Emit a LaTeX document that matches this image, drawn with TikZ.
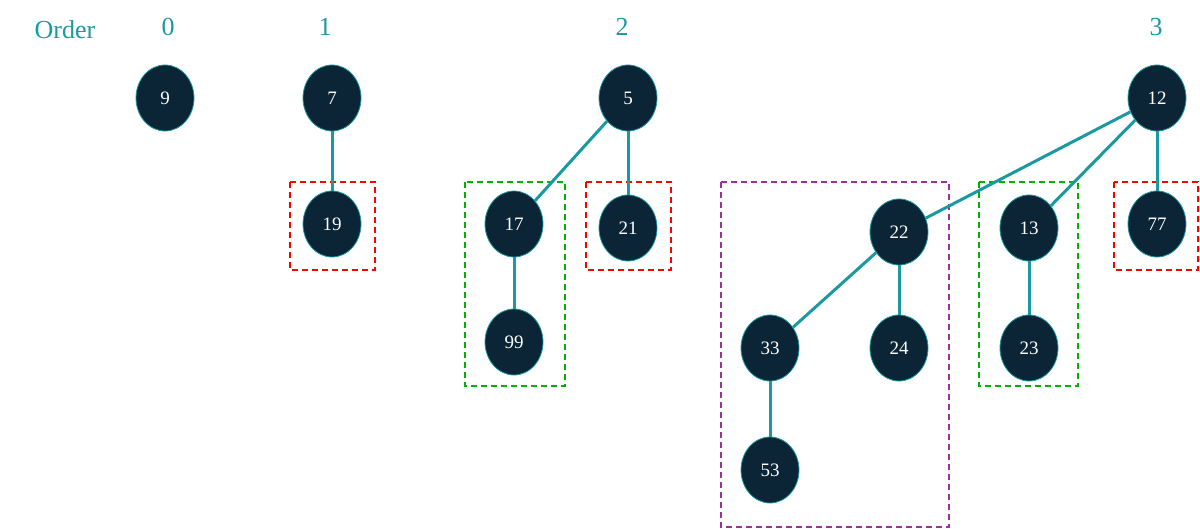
\documentclass[tikz,border=0pt]{standalone}
\usepackage{fontspec}
\setmainfont{Liberation Serif}
\usetikzlibrary{shapes.geometric}
\definecolor{teal1}{HTML}{1A9AA0}
\definecolor{navy1}{HTML}{0B2436}
\begin{document}
\begin{tikzpicture}[x=1pt,y=-1pt,
  hn/.style={ellipse,draw=teal1,line width=0.8pt,fill=navy1,minimum width=58pt,minimum height=66pt,inner sep=0pt,text=white,font=\fontsize{19}{20}\selectfont},
  ed/.style={draw=teal1,line width=3pt},
  lab/.style={text=teal1,font=\fontsize{26}{28}\selectfont},
  bx/.style={dashed,line width=1.2pt,dash pattern=on 6pt off 4pt}]
\useasboundingbox (0,0) rectangle (1200,529);
\node[lab] (ord) at (65,30) {Order};
\node[lab] (o0) at (168,27) {0};
\node[lab] (o1) at (325,27) {1};
\node[lab] (o2) at (622,27) {2};
\node[lab] (o3) at (1156,27) {3};
\draw[bx,red] (290,182) rectangle (375,270);
\draw[bx,green!70!black] (465,182) rectangle (565,386);
\draw[bx,red] (586,182) rectangle (671,270);
\draw[bx,violet!80] (721,182) rectangle (949,527);
\draw[bx,green!70!black] (979,182) rectangle (1078,386);
\draw[bx,red] (1114,182) rectangle (1198,270);
\node[hn] (n9) at (165,98) {9};
\node[hn] (n7) at (332,98) {7};
\node[hn] (n19) at (332,224) {19};
\node[hn] (n5) at (628,98) {5};
\node[hn] (n17) at (514,224) {17};
\node[hn] (n21) at (628,228) {21};
\node[hn] (n99) at (514,342) {99};
\node[hn] (n12) at (1157,98) {12};
\node[hn] (n22) at (899,232) {22};
\node[hn] (n13) at (1029,228) {13};
\node[hn] (n77) at (1157,224) {77};
\node[hn] (n33) at (770,348) {33};
\node[hn] (n24) at (899,348) {24};
\node[hn] (n23) at (1029,348) {23};
\node[hn] (n53) at (770,470) {53};
\foreach \a/\b in {n7/n19,n5/n17,n5/n21,n17/n99,n12/n22,n12/n13,n12/n77,n22/n33,n22/n24,n13/n23,n33/n53}
  \draw[ed] (\a) -- (\b);
\end{tikzpicture}
\end{document}
